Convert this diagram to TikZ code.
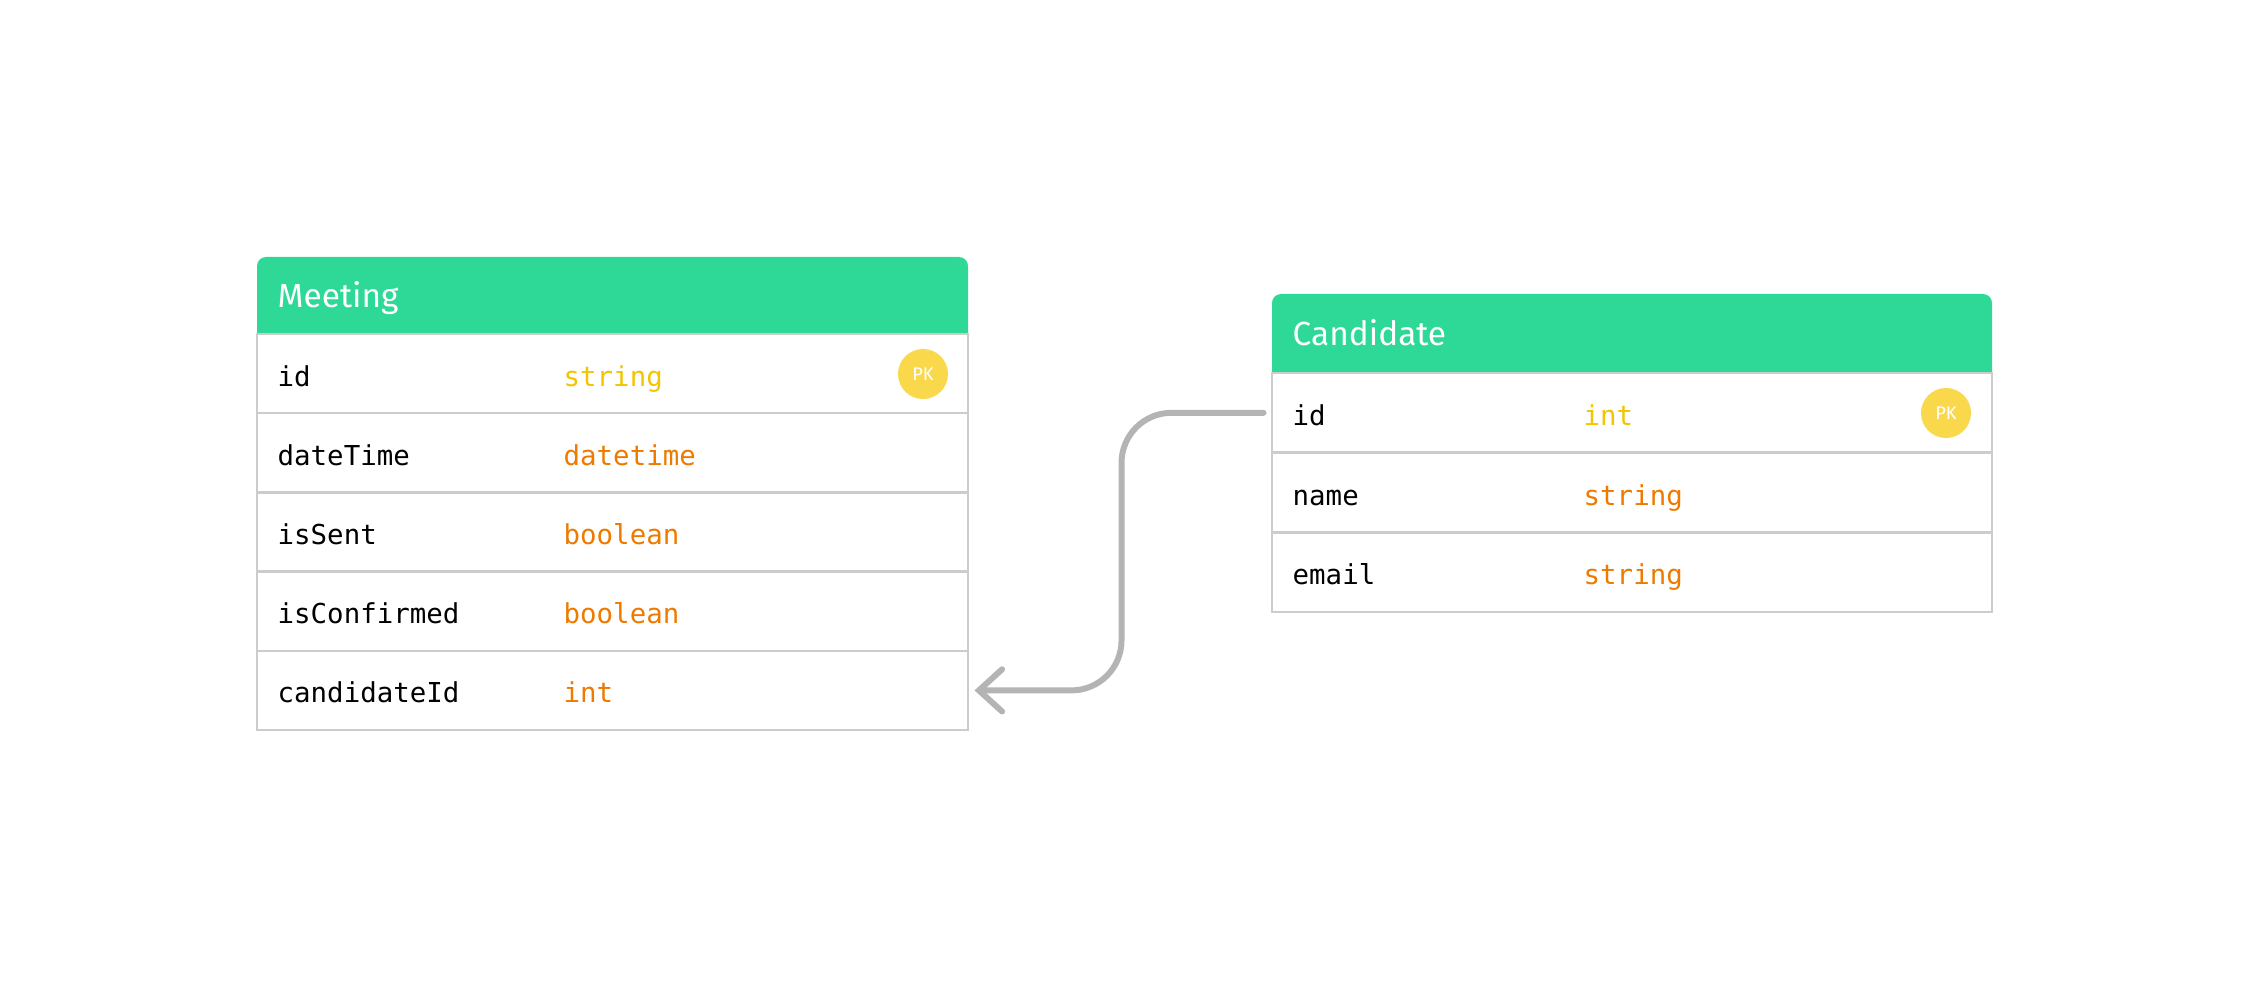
\documentclass[tikz,border=0pt]{standalone}
\usepackage{xcolor}
\usepackage{fontspec}
\setmainfont{Fira Sans}
\setmonofont{DejaVu Sans Mono}
\usepackage{tikz}
\usetikzlibrary{arrows.meta}
\definecolor{hdrgreen}{HTML}{2ED997}
\definecolor{rowline}{HTML}{CCCCCC}
\definecolor{typeorange}{HTML}{EE7A00}
\definecolor{keyyellow}{HTML}{F2C500}
\definecolor{pkyellow}{HTML}{FAD84B}
\definecolor{linkgray}{HTML}{B4B4B4}

\begin{document}
\begin{tikzpicture}[x=0.01cm, y=-0.01cm]
\tikzstyle{mrow}=[rectangle, draw=rowline, line width=0.7pt, minimum width=7.11cm, minimum height=0.792cm, inner sep=0pt]
\tikzstyle{crow}=[mrow, minimum width=7.2cm, minimum height=0.797cm]
\tikzstyle{title}=[anchor=base west, yshift=-0.115cm, inner sep=0pt, text=white, font=\fontsize{9.5}{11}\selectfont]
\tikzstyle{field}=[anchor=base west, yshift=-0.125cm, inner sep=0pt, font=\ttfamily\fontsize{7.8}{9}\selectfont]
\tikzstyle{ftype}=[field, text=typeorange]
\tikzstyle{pk}=[circle, fill=pkyellow, minimum size=0.5cm, inner sep=0pt, text=white, font=\fontsize{5.2}{6}\selectfont]
\tikzstyle{link}=[draw=linkgray, line width=1.7pt, line cap=round, line join=round, rounded corners=0.5cm, -{Straight Barb[length=6.6pt, width=12pt, line cap=round]}]
\useasboundingbox (0,0) rectangle (2248,988);

% Meeting
\fill[hdrgreen] (257,334) [rounded corners=0.09cm] -- (257,257) -- (968,257) [sharp corners] -- (968,334) -- cycle;
\node[title] (MT) at (277,295.5) {Meeting};
\node[mrow] (M1) at (612.5,373.6) {};
\node[mrow] (M2) at (612.5,452.8) {};
\node[mrow] (M3) at (612.5,532) {};
\node[mrow] (M4) at (612.5,611.2) {};
\node[mrow] (M5) at (612.5,690.4) {};
\node[field] (M1a) at (277,373.6) {id};
\node[field] (M2a) at (277,452.8) {dateTime};
\node[field] (M3a) at (277,532) {isSent};
\node[field] (M4a) at (277,611.2) {isConfirmed};
\node[field] (M5a) at (277,690.4) {candidateId};
\node[ftype, text=keyyellow] (M1b) at (563,373.6) {string};
\node[ftype] (M2b) at (563,452.8) {datetime};
\node[ftype] (M3b) at (563,532) {boolean};
\node[ftype] (M4b) at (563,611.2) {boolean};
\node[ftype] (M5b) at (563,690.4) {int};
\node[pk] (MK) at (923,374) {PK};

% Candidate
\fill[hdrgreen] (1272,373) [rounded corners=0.09cm] -- (1272,294) -- (1992,294) [sharp corners] -- (1992,373) -- cycle;
\node[title] (CT) at (1292,333.5) {Candidate};
\node[crow] (C1) at (1632,412.8) {};
\node[crow] (C2) at (1632,492.5) {};
\node[crow] (C3) at (1632,572.2) {};
\node[field] (C1a) at (1292,412.8) {id};
\node[field] (C2a) at (1292,492.5) {name};
\node[field] (C3a) at (1292,572.2) {email};
\node[ftype, text=keyyellow] (C1b) at (1583,412.8) {int};
\node[ftype] (C2b) at (1583,492.5) {string};
\node[ftype] (C3b) at (1583,572.2) {string};
\node[pk] (CK) at (1946,413) {PK};

\draw[link] ([xshift=-0.07cm]C1.west) -| ([xshift=1.52cm]M5.east) -- ([xshift=0.05cm]M5.east);

\end{tikzpicture}
\end{document}
